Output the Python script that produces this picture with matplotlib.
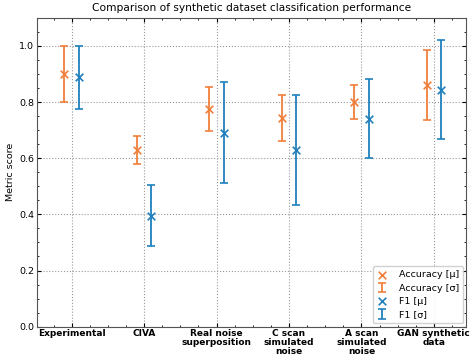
import numpy as np
import matplotlib
matplotlib.use('Agg')
import matplotlib.pyplot as plt
from matplotlib.ticker import MultipleLocator

categories = ['Experimental', 'CIVA', 'Real noise\nsuperposition', 'C scan\nsimulated\nnoise',
              'A scan\nsimulated\nnoise', 'GAN synthetic\ndata']
acc_mean = [0.899, 0.630, 0.776, 0.744, 0.801, 0.861]
acc_std = [0.099, 0.049, 0.078, 0.082, 0.061, 0.125]
f1_mean = [0.888, 0.395, 0.690, 0.630, 0.740, 0.844]
f1_std = [0.112, 0.108, 0.180, 0.196, 0.141, 0.177]

c_acc = '#f07f3c'
c_f1 = '#1f80bd'

plt.rcParams['xtick.direction'] = 'in'
plt.rcParams['ytick.direction'] = 'in'
plt.rcParams['xtick.top'] = True
plt.rcParams['ytick.right'] = True

fig, ax = plt.subplots(figsize=(4.74, 3.63), dpi=100)
fig.subplots_adjust(left=0.078, right=0.984, top=0.951, bottom=0.10)

x = np.arange(len(categories))
off = 0.1

h1 = ax.scatter(x - off, acc_mean, marker='x', color=c_acc, s=30, lw=1.2, label='Accuracy [μ]', zorder=3)
h2 = ax.errorbar(x - off, acc_mean, yerr=acc_std, fmt='none', ecolor=c_acc, capsize=3, elinewidth=1.3,
                 capthick=1.2, label='Accuracy [σ]')
h3 = ax.scatter(x + off, f1_mean, marker='x', color=c_f1, s=30, lw=1.2, label='F1 [μ]', zorder=3)
h4 = ax.errorbar(x + off, f1_mean, yerr=f1_std, fmt='none', ecolor=c_f1, capsize=3, elinewidth=1.3,
                 capthick=1.2, label='F1 [σ]')

ax.set_xlim(-0.48, 5.45)
ax.set_ylim(0, 1.1)
ax.set_xticks(x)
ax.set_xticklabels(categories, fontsize=6.5, fontweight='bold', linespacing=1.05)
ax.xaxis.set_minor_locator(MultipleLocator(0.25))
ax.yaxis.set_minor_locator(MultipleLocator(0.05))
ax.set_yticks([0.0, 0.2, 0.4, 0.6, 0.8, 1.0])
ax.set_yticklabels(['0.0', '0.2', '0.4', '0.6', '0.8', '1.0'])
ax.tick_params(axis='both', which='major', labelsize=6.8, length=3, pad=2)
ax.tick_params(axis='x', which='major', labelsize=6.5, pad=1.5)
ax.tick_params(axis='both', which='minor', length=1.5)
ax.grid(True, linestyle=':', color='#999999', lw=0.8)
ax.set_axisbelow(True)
for s in ax.spines.values():
    s.set_color('#555555')

ax.set_ylabel('Metric score', fontsize=6.8, labelpad=3)
ax.set_title('Comparison of synthetic dataset classification performance', fontsize=7.7, pad=5)
ax.legend([h1, h2, h3, h4], ['Accuracy [μ]', 'Accuracy [σ]', 'F1 [μ]', 'F1 [σ]'],
          loc='lower right', fontsize=6.8, framealpha=0.9, handlelength=1.0,
          borderpad=0.45, labelspacing=0.45, handletextpad=1.3, borderaxespad=0.35)

fig.savefig('out.png', dpi=100)
